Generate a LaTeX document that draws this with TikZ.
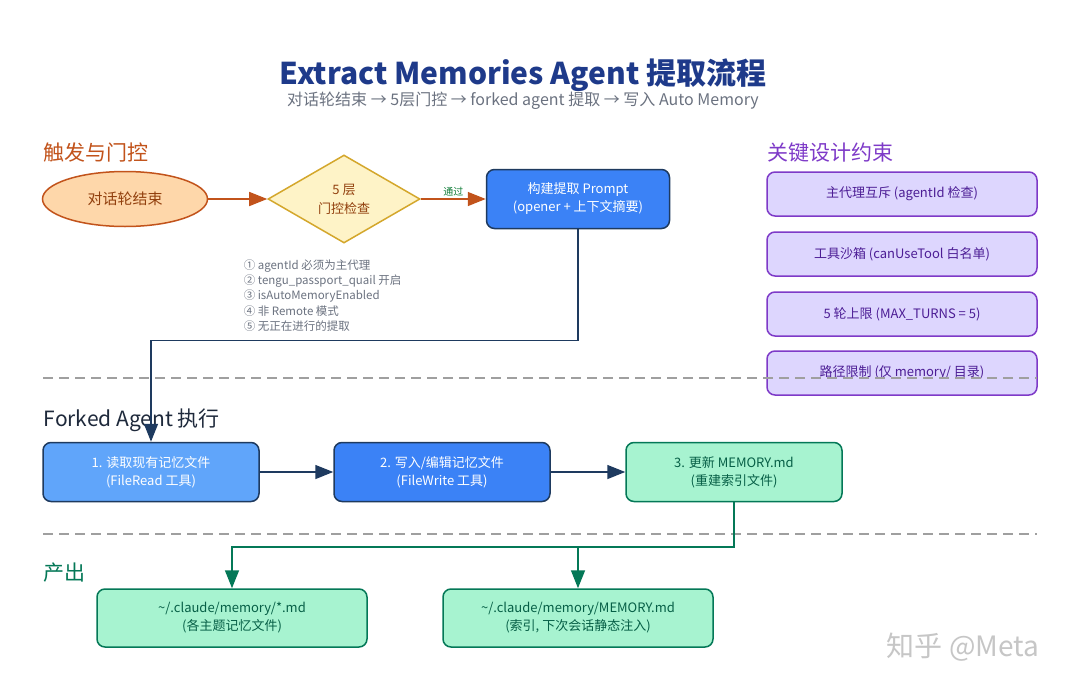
\documentclass[tikz,border=0pt]{standalone}
\usepackage{fontspec}
\setmainfont{Noto Sans CJK SC}
\usetikzlibrary{shapes.geometric,arrows.meta}
\definecolor{navy}{HTML}{1E3A5F}
\definecolor{titleblue}{HTML}{1E3A8A}
\definecolor{subgray}{HTML}{6B7280}
\definecolor{rust}{HTML}{C2531B}
\definecolor{peach}{HTML}{FED7AA}
\definecolor{cream}{HTML}{FEF3C7}
\definecolor{gold}{HTML}{D4A72C}
\definecolor{brown}{HTML}{92400E}
\definecolor{passgreen}{HTML}{15803D}
\definecolor{blueA}{HTML}{3B82F6}
\definecolor{blueB}{HTML}{60A5FA}
\definecolor{mintfill}{HTML}{A7F3D0}
\definecolor{mintline}{HTML}{047857}
\definecolor{minttext}{HTML}{065F46}
\definecolor{lavender}{HTML}{DDD6FE}
\definecolor{violet}{HTML}{7E3AC8}
\definecolor{violettext}{HTML}{4C1D95}
\definecolor{slate}{HTML}{1E293B}
\tikzset{
  proc/.style={draw=navy,line width=1.5pt,rounded corners=8pt,minimum width=216pt,
    minimum height=59pt,inner sep=0pt,text=white,align=center,font=\fontsize{13}{18}\selectfont},
  outbox/.style={proc,fill=mintfill,draw=mintline,text=minttext},
  rulebox/.style={draw=violet,fill=lavender,line width=1.5pt,rounded corners=8pt,
    minimum width=270pt,minimum height=44pt,inner sep=0pt,text=violettext,font=\fontsize{13}{16}\selectfont},
  heading/.style={anchor=west,inner sep=0pt,font=\fontsize{21}{25}\selectfont},
}
\begin{document}
\begin{tikzpicture}[x=1pt,y=-1pt,>={Triangle[length=18pt,width=14pt]},line width=1.5pt]
  \useasboundingbox[fill=white] (0,0) rectangle (1080,691);

  % title
  \node[font=\fontsize{30}{34}\selectfont\bfseries,text=titleblue] (title) at (523,75) {Extract Memories Agent 提取流程};
  \node[font=\fontsize{16}{19}\selectfont,text=subgray] (subtitle) at (523,101) {对话轮结束 → 5层门控 → forked agent 提取 → 写入 Auto Memory};

  % trigger and gating
  \node[heading,text=rust] (trig) at (43,153) {触发与门控};
  \node[ellipse,draw=rust,fill=peach,minimum width=165pt,minimum height=55pt,inner sep=0pt,
    text=brown,font=\fontsize{15}{18}\selectfont] (end) at (125,199) {对话轮结束};
  \node[diamond,draw=gold,fill=cream,minimum width=152pt,minimum height=88pt,inner sep=0pt,
    text=brown,align=center,font=\fontsize{13}{19}\selectfont] (gate) at (344,199) {5 层\\门控检查};
  \node[proc,fill=blueA,minimum width=183pt] (prompt) at (578,199) {构建提取 Prompt\\(opener + 上下文摘要)};
  \draw[->,rust] (end) -- (gate);
  \draw[->,rust] (gate) -- node[above,inner sep=2pt,text=passgreen,font=\fontsize{10}{12}\selectfont] {通过} (prompt);
  \node[anchor=north west,align=left,inner sep=0pt,text=subgray,font=\fontsize{11.5}{15.2}\selectfont] (checks) at (243,259)
    {① agentId 必须为主代理\\② tengu\_passport\_quail 开启\\③ isAutoMemoryEnabled\\④ 非 Remote 模式\\⑤ 无正在进行的提取};

  % design constraints
  \node[heading,text=violet] (rules) at (767,153) {关键设计约束};
  \node[rulebox] (r1) at (902,194) {主代理互斥 (agentId 检查)};
  \node[rulebox] (r2) at (902,254) {工具沙箱 (canUseTool 白名单)};
  \node[rulebox] (r3) at (902,314) {5 轮上限 (MAX\_TURNS = 5)};
  \node[rulebox] (r4) at (902,373) {路径限制 (仅 memory/ 目录)};

  % separators
  \draw[draw=gray!75,line width=1.2pt,dash pattern=on 10pt off 6pt] (43,378) -- (1037,378);
  \draw[draw=gray!75,line width=1.2pt,dash pattern=on 10pt off 6pt] (43,534) -- (1037,534);

  % forked agent
  \node[heading,text=slate] (fork) at (43,420) {Forked Agent 执行};
  \node[proc,fill=blueB] (read) at (151,472) {1. 读取现有记忆文件\\(FileRead 工具)};
  \node[proc,fill=blueA] (write) at (442,472) {2. 写入/编辑记忆文件\\(FileWrite 工具)};
  \node[outbox] (update) at (734,472) {3. 更新 MEMORY.md\\(重建索引文件)};
  \draw[->,navy] (prompt.south) -- ++(0,111) -| (read.north);
  \draw[->,navy] (read) -- (write);
  \draw[->,navy] (write) -- (update);

  % output
  \node[heading,text=mintline] (out) at (43,573) {产出};
  \node[outbox,minimum width=270pt,minimum height=58pt] (files) at (232,618) {\textasciitilde/.claude/memory/*.md\\(各主题记忆文件)};
  \node[outbox,minimum width=270pt,minimum height=58pt] (index) at (578,618) {\textasciitilde/.claude/memory/MEMORY.md\\(索引, 下次会话静态注入)};
  \coordinate (split) at (578,547);
  \draw[->,mintline] (update.south) |- (split) -| (files.north);
  \draw[->,mintline] (split) -- (index.north);

  \node[text=gray!45,font=\fontsize{28}{32}\selectfont] (mark) at (963,647) {知乎 @Meta};
\end{tikzpicture}
\end{document}
